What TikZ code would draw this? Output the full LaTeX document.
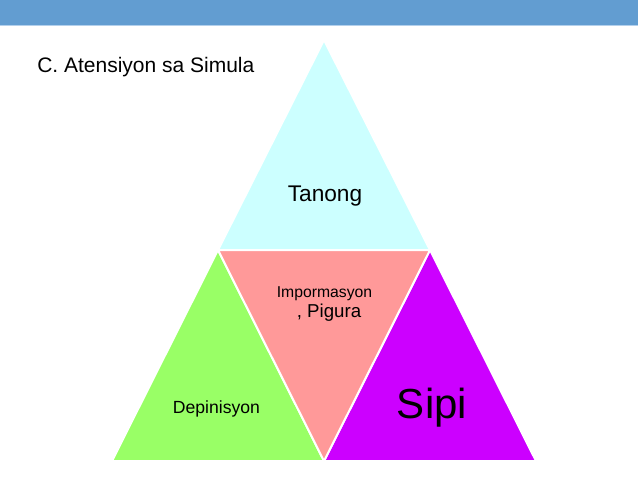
\documentclass[tikz,border=0pt]{standalone}
\usepackage{fontspec}
\setmainfont{Liberation Sans}
\usepackage{tikz}
\usetikzlibrary{positioning}

\definecolor{barblue}{HTML}{629DD1}
\definecolor{barline}{HTML}{B3D0EC}
\definecolor{topcyan}{HTML}{CCFFFF}
\definecolor{leftgreen}{HTML}{99FF66}
\definecolor{midpink}{HTML}{FF9999}
\definecolor{rightpurple}{HTML}{CC00FF}

\tikzset{
  part/.style={draw=white, line width=1.5pt, line join=round},
  lbl/.style={anchor=base, inner sep=0pt, text=black}
}

\begin{document}
\begin{tikzpicture}[x=0.75pt,y=-0.75pt]
\useasboundingbox (0,0) rectangle (638,478);
\fill[barblue] (0,0) rectangle (638,25);
\fill[barline] (0,25) rectangle (638,26.5);

\coordinate (apex) at (324,40);
\coordinate (midl) at (218,250);
\coordinate (midr) at (430,250);
\coordinate (botl) at (112,461);
\coordinate (botm) at (324,461);
\coordinate (botr) at (536,461);

\filldraw[part, fill=topcyan]     (apex) -- (midr) -- (midl) -- cycle;
\filldraw[part, fill=leftgreen]   (midl) -- (botm) -- (botl) -- cycle;
\filldraw[part, fill=rightpurple] (midr) -- (botr) -- (botm) -- cycle;
\filldraw[part, fill=midpink]     (midl) -- (midr) -- (botm) -- cycle;

\node[lbl, anchor=base west, font=\fontsize{15.75}{18}\selectfont] (title) at (37,72) {C. Atensiyon sa Simula};
\node[lbl, font=\fontsize{17}{20}\selectfont] (tanong) at (325,201) {Tanong};
\node[lbl, font=\fontsize{11.8}{14}\selectfont] (impor) at (324.5,297) {Impormasyon};
\node[lbl, font=\fontsize{14}{17}\selectfont] (pigura) at (329,317) {, Pigura};
\node[lbl, font=\fontsize{13.2}{16}\selectfont] (depin) at (216.5,413) {Depinisyon};
\node[lbl, font=\fontsize{31.5}{36}\selectfont] (sipi) at (432,418) {Sipi};
\end{tikzpicture}
\end{document}
